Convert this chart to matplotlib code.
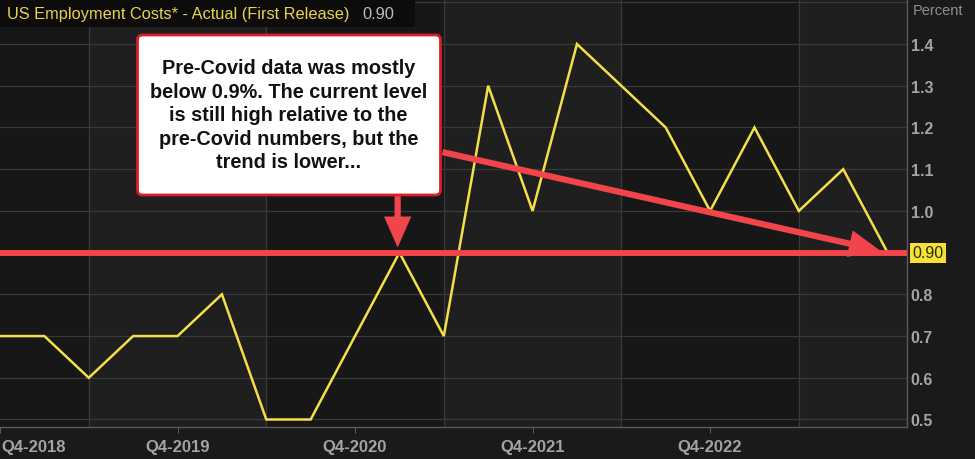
import numpy as np
import matplotlib
matplotlib.use("Agg")
import matplotlib.pyplot as plt
from matplotlib.patches import FancyBboxPatch, Rectangle, FancyArrowPatch
import matplotlib.transforms as mtransforms

# ---- data ----
quarters = ['Q4-2018', 'Q1-2019', 'Q2-2019', 'Q3-2019', 'Q4-2019',
            'Q1-2020', 'Q2-2020', 'Q3-2020', 'Q4-2020',
            'Q1-2021', 'Q2-2021', 'Q3-2021', 'Q4-2021',
            'Q1-2022', 'Q2-2022', 'Q3-2022', 'Q4-2022',
            'Q1-2023', 'Q2-2023', 'Q3-2023', 'Q4-2023']
values = [0.7, 0.7, 0.6, 0.7, 0.7,
          0.8, 0.5, 0.5, 0.7,
          0.9, 0.7, 1.3, 1.0,
          1.4, 1.3, 1.2, 1.0,
          1.2, 1.0, 1.1, 0.9]
tick_labels = ['Q4-2018', 'Q4-2019', 'Q4-2020', 'Q4-2021', 'Q4-2022']
y_ticks = [0.5, 0.6, 0.7, 0.8, 0.9, 1.0, 1.1, 1.2, 1.3, 1.4]
y_tick_labels = ['0.5', '0.6', '0.7', '0.8', '', '1.0', '1.1', '1.2', '1.3', '1.4']
ref_level = 0.9
last_label = '0.90'
title = 'US Employment Costs* - Actual (First Release)'
note = ("Pre-Covid data was mostly\nbelow 0.9%. The current level\n"
        "is still high relative to the\npre-Covid numbers, but the\ntrend is lower...")

# ---- style ----
BG = '#1b1a1a'
BAND_DARK = '#181717'
BAND_LIGHT = '#201f1f'
GRID = '#3a3939'
YELLOW = '#f3df48'
RED = '#f1454b'
TICK = '#a3a3a3'

plt.rcParams['font.family'] = ['Liberation Sans', 'DejaVu Sans']

fig = plt.figure(figsize=(9.75, 4.6), dpi=100)
fig.patch.set_facecolor(BG)
ax = fig.add_axes([0.0, 32 / 460, 906.7 / 975, 428 / 460])
ax.set_facecolor(BAND_DARK)

x = np.arange(len(values))
ax.set_xlim(0.025, 20.43)
ax.set_ylim(0.482, 1.508)

# alternating yearly bands, boundaries at Q2 positions
bounds = [i for i, q in enumerate(quarters) if q.startswith('Q2')]
edges = [ax.get_xlim()[0]] + bounds + [ax.get_xlim()[1]]
for k in range(len(edges) - 1):
    ax.axvspan(edges[k], edges[k + 1], color=BAND_DARK if k % 2 == 0 else BAND_LIGHT,
               lw=0, zorder=0)
for b in bounds:
    ax.axvline(b, color=GRID, lw=0.9, zorder=1)
for yv in np.arange(0.5, 1.55, 0.1):
    ax.axhline(yv, color=GRID, lw=0.9, zorder=1)

ax.plot(x, values, color=YELLOW, lw=1.8, zorder=3, solid_joinstyle='miter')

# axes styling
for s in ['left', 'top']:
    ax.spines[s].set_visible(False)
for s in ['right', 'bottom']:
    ax.spines[s].set_color('#5a5a5a')
    ax.spines[s].set_linewidth(1.0)
ax.yaxis.tick_right()
ax.set_yticks(y_ticks)
ax.set_yticklabels(y_tick_labels)
ax.tick_params(axis='y', length=0, pad=3, labelsize=11.5, labelcolor=TICK)
tick_pos = [quarters.index(t) for t in tick_labels]
ax.set_xticks(tick_pos)
ax.set_xticklabels(tick_labels)
ax.tick_params(axis='x', length=4, color='#5a5a5a', pad=5, labelsize=12, labelcolor=TICK)
for lab in ax.get_xticklabels() + ax.get_yticklabels():
    lab.set_fontweight('bold')
first = ax.get_xticklabels()[0]
first.set_horizontalalignment('left')
first.set_transform(first.get_transform() + mtransforms.ScaledTranslation(1.5 / 100, 0, fig.dpi_scale_trans))

# Percent label
ax.text(1.0 + 6 / 906.7, 0.975, 'Percent', transform=ax.transAxes, ha='left', va='center',
        fontsize=10.5, color='#8e8e8e')

# 0.90 last-value label
trans = mtransforms.blended_transform_factory(ax.transAxes, ax.transData)
ax.text(1.0 + 6 / 906.7, values[-1], last_label, transform=trans, ha='left', va='center',
        fontsize=11.5, color='#2a2a10',
        bbox=dict(boxstyle='square,pad=0.15', fc='#f5e035', ec='none'))

# red reference line & arrows
ax.axhline(ref_level, color=RED, lw=4.3, zorder=4, solid_capstyle='butt')
arr_style = 'simple,head_length=1.6,head_width=1.4,tail_width=0.32'
ax.add_patch(FancyArrowPatch((9.97, 1.141), (19.83, 0.905), arrowstyle=arr_style,
                             mutation_scale=14, color=RED, lw=0, zorder=5,
                             shrinkA=0, shrinkB=0))
ax.add_patch(FancyArrowPatch((8.96, 1.04), (8.96, 0.912), arrowstyle=arr_style,
                             mutation_scale=14, color=RED, lw=0, zorder=5,
                             shrinkA=0, shrinkB=0))

# annotation box (inches)
box = FancyBboxPatch((1.375, 2.64), 3.03, 1.60,
                     boxstyle='round,pad=0,rounding_size=0.05',
                     transform=fig.dpi_scale_trans, fc='white', ec='#d81e26', lw=2.0,
                     zorder=10)
fig.patches.append(box)
fig.text(2.885, 3.44, note, transform=fig.dpi_scale_trans, ha='center', va='center',
         multialignment='center', fontsize=14.3, fontweight='bold', color='#111111',
         linespacing=1.3, zorder=11)

# title bar
fig.patches.append(Rectangle((0, 4.32), 4.15, 0.28, transform=fig.dpi_scale_trans,
                             fc='#0c0c0c', ec='none', zorder=8))
fig.text(0.07, 4.455, title, transform=fig.dpi_scale_trans, ha='left', va='center',
         fontsize=11.8, color='#e8d24c', zorder=9)
fig.text(3.62, 4.455, last_label, transform=fig.dpi_scale_trans, ha='left', va='center',
         fontsize=11.8, color='#bdbdbd', zorder=9)

fig.savefig('out.png', dpi=100, facecolor=BG)
